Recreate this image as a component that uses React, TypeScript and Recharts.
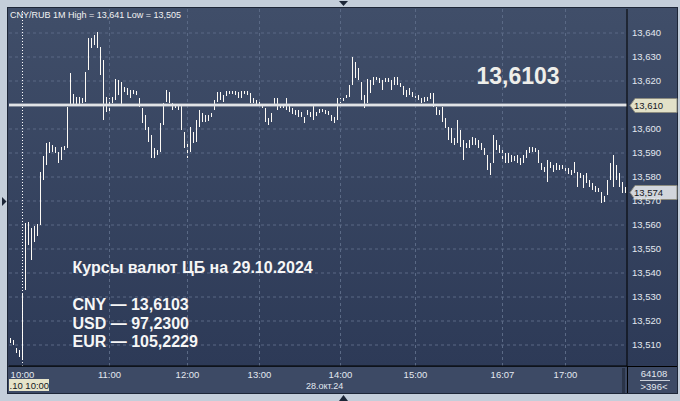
import React from 'react';
import { BarChart, Bar, XAxis, YAxis, CartesianGrid, ReferenceLine } from 'recharts';

// one-minute high/low bars (grouped), CNY/RUB, 28.10.2024
const highs = [
  13.5129, 13.5121, 13.5088, 13.5079, 13.5317, 13.5608, 13.5613, 13.5588, 13.5596, 13.5604,
  13.5821, 13.5888, 13.5942, 13.5946, 13.5933, 13.5925, 13.5904, 13.5925, 13.5929, 13.6092,
  13.6233, 13.6146, 13.6133, 13.6133, 13.6129, 13.6238, 13.6379, 13.6379, 13.6392, 13.6404,
  13.6342, 13.6288, 13.6133, 13.6129, 13.6133, 13.6208, 13.6204, 13.6196, 13.6175, 13.6171,
  13.6163, 13.6163, 13.6158, 13.6129, 13.6088, 13.6058, 13.6008, 13.5975, 13.5921, 13.5913,
  13.6025, 13.6108, 13.6163, 13.6154, 13.6108, 13.6104, 13.6096, 13.6100, 13.5988, 13.5946,
  13.6008, 13.5988, 13.6038, 13.6079, 13.6067, 13.6058, 13.6058, 13.6067, 13.6121, 13.6154,
  13.6154, 13.6142, 13.6158, 13.6158, 13.6158, 13.6158, 13.6154, 13.6158, 13.6158, 13.6158,
  13.6150, 13.6129, 13.6121, 13.6113, 13.6104, 13.6088, 13.6046, 13.6067, 13.6129, 13.6129,
  13.6104, 13.6100, 13.6129, 13.6100, 13.6088, 13.6079, 13.6079, 13.6071, 13.6050, 13.6079,
  13.6071, 13.6096, 13.6071, 13.6083, 13.6083, 13.6079, 13.6075, 13.6058, 13.6050, 13.6129,
  13.6129, 13.6129, 13.6142, 13.6183, 13.6300, 13.6279, 13.6254, 13.6196, 13.6142, 13.6208,
  13.6204, 13.6217, 13.6217, 13.6213, 13.6204, 13.6213, 13.6213, 13.6204, 13.6217, 13.6217,
  13.6192, 13.6179, 13.6163, 13.6171, 13.6154, 13.6150, 13.6142, 13.6129, 13.6133, 13.6133,
  13.6150, 13.6150, 13.6092, 13.6079, 13.6092, 13.6046, 13.6008, 13.6004, 13.5963, 13.6038,
  13.5996, 13.5954, 13.5942, 13.5954, 13.5967, 13.5963, 13.5954, 13.5942, 13.5921, 13.5892,
  13.5858, 13.5975, 13.5954, 13.5933, 13.5913, 13.5900, 13.5900, 13.5892, 13.5888, 13.5892,
  13.5879, 13.5892, 13.5913, 13.5925, 13.5925, 13.5921, 13.5913, 13.5858, 13.5842, 13.5871,
  13.5863, 13.5850, 13.5858, 13.5850, 13.5850, 13.5846, 13.5838, 13.5829, 13.5863, 13.5821,
  13.5817, 13.5808, 13.5817, 13.5788, 13.5775, 13.5763, 13.5754, 13.5738, 13.5721, 13.5788,
  13.5858, 13.5892, 13.5850, 13.5817, 13.5779, 13.5758,
];

const lows = [
  13.5108, 13.5100, 13.5067, 13.5050, 13.5038, 13.5329, 13.5517, 13.5454, 13.5529, 13.5554,
  13.5600, 13.5788, 13.5850, 13.5900, 13.5904, 13.5900, 13.5858, 13.5871, 13.5913, 13.5921,
  13.6096, 13.6104, 13.6100, 13.6104, 13.6108, 13.6113, 13.6246, 13.6338, 13.6350, 13.6338,
  13.6225, 13.6038, 13.6071, 13.6067, 13.6108, 13.6121, 13.6142, 13.6100, 13.6154, 13.6142,
  13.6129, 13.6146, 13.6142, 13.6092, 13.6025, 13.5996, 13.5946, 13.5879, 13.5879, 13.5892,
  13.5904, 13.6017, 13.6113, 13.6108, 13.6079, 13.6088, 13.6079, 13.5996, 13.5921, 13.5879,
  13.5904, 13.5942, 13.5946, 13.6008, 13.6029, 13.6029, 13.6033, 13.6050, 13.6079, 13.6113,
  13.6121, 13.6113, 13.6138, 13.6146, 13.6146, 13.6142, 13.6129, 13.6129, 13.6146, 13.6142,
  13.6108, 13.6108, 13.6104, 13.6100, 13.6088, 13.6029, 13.6017, 13.6029, 13.6100, 13.6079,
  13.6088, 13.6088, 13.6079, 13.6071, 13.6063, 13.6058, 13.6050, 13.6050, 13.6025, 13.6058,
  13.6050, 13.6038, 13.6054, 13.6067, 13.6071, 13.6063, 13.6058, 13.6033, 13.6025, 13.6038,
  13.6108, 13.6117, 13.6129, 13.6133, 13.6183, 13.6213, 13.6204, 13.6121, 13.6088, 13.6108,
  13.6150, 13.6183, 13.6204, 13.6192, 13.6163, 13.6196, 13.6196, 13.6163, 13.6183, 13.6183,
  13.6175, 13.6142, 13.6133, 13.6142, 13.6133, 13.6129, 13.6121, 13.6108, 13.6113, 13.6117,
  13.6125, 13.6092, 13.6058, 13.6058, 13.6029, 13.6004, 13.5954, 13.5942, 13.5933, 13.5942,
  13.5925, 13.5871, 13.5921, 13.5921, 13.5933, 13.5933, 13.5921, 13.5913, 13.5892, 13.5829,
  13.5808, 13.5858, 13.5913, 13.5900, 13.5871, 13.5858, 13.5858, 13.5863, 13.5867, 13.5858,
  13.5850, 13.5858, 13.5879, 13.5900, 13.5904, 13.5904, 13.5858, 13.5829, 13.5821, 13.5779,
  13.5838, 13.5821, 13.5829, 13.5829, 13.5833, 13.5821, 13.5813, 13.5808, 13.5817, 13.5758,
  13.5796, 13.5754, 13.5775, 13.5758, 13.5746, 13.5738, 13.5738, 13.5692, 13.5696, 13.5725,
  13.5788, 13.5758, 13.5788, 13.5758, 13.5733, 13.5733,
];

const xTickSlots = [4, 33, 59, 83, 110, 135, 164, 185];
const xTickLabels = ['10:00', '11:00', '12:00', '13:00', '14:00', '15:00', '16:07', '17:00'];
// 13,610 is shown by the price tag itself
const yTicks = [13.51, 13.52, 13.53, 13.54, 13.55, 13.56, 13.57, 13.58, 13.59, 13.6, 13.62, 13.63, 13.64];
const gridY = [13.51, 13.52, 13.53, 13.54, 13.55, 13.56, 13.57, 13.58, 13.59, 13.6, 13.61, 13.62, 13.63, 13.64];
const yDomain = [13.50125, 13.65];
const refPrice = 13.61;
const lastPrice = 13.574;

const headerText = 'CNY/RUB 1M High = 13,641 Low = 13,505';
const bigPriceText = '13,6103';
const ratesTitle = 'Курсы валют ЦБ на 29.10.2024';
const ratesLines = ['CNY — 13,6103', 'USD — 97,2300', 'EUR — 105,2229'];
const cursorTimeText = '.10 10:00';
const dateText = '28.окт.24';
const volumeText = '64108';
const barsCountText = '>396<';

const data = highs.map((h, i) => ({ i, hl: [lows[i], h] }));

const FONT = '"Liberation Sans", Arial, sans-serif';
const fmt3 = (v: number) => v.toFixed(3).replace('.', ',');

const HLBar = (props: any) => {
  const { x, y, width, height } = props;
  if (x == null || y == null) return null;
  const top = Math.round(height < 0 ? y + height : y);
  const bottom = Math.round(height < 0 ? y : y + height);
  return <rect x={Math.floor(x)} y={top} width={Math.max(1, Math.round(width))} height={Math.max(1, bottom - top)} fill="#fdfaf5" />;
};

const PriceTag = (props: any) => {
  const { viewBox, text, fill, dy } = props;
  if (!viewBox) return null;
  const x = viewBox.x + viewBox.width + 3;
  const y = Math.round(viewBox.y + (dy || 0)) + 0.5;
  return (
    <g>
      <polygon
        points={`${x},${y} ${x + 5},${y - 7} ${x + 47},${y - 7} ${x + 47},${y + 7} ${x + 5},${y + 7}`}
        fill={fill}
        stroke="#8c8c80"
        strokeWidth={1}
      />
      <text x={x + 4} y={y + 3.5} fontSize={9.5} fill="#15181e" fontFamily={FONT}>{text}</text>
    </g>
  );
};

export default function App() {
  return (
    <div style={{ position: 'absolute', left: 0, top: 0, width: 680, height: 401, overflow: 'hidden' }}>
      <svg width={680} height={401} style={{ position: 'absolute', left: 0, top: 0 }}>
        <defs>
          <linearGradient id="pg" x1="0" y1="0" x2="0" y2="1">
            <stop offset="0" stopColor="#404e69" />
            <stop offset="1" stopColor="#2d3a57" />
          </linearGradient>
        </defs>
        <rect x={0} y={0} width={680} height={401} fill="#c4ceda" />
        <rect x={7} y={7} width={671} height={387} fill="#1d2637" />
        <rect x={8} y={8} width={620} height={358} fill="url(#pg)" />
        <rect x={628} y={8} width={49} height={358} fill="url(#pg)" />
        <rect x={8} y={367} width={669} height={26} fill="#3d4a65" />
      </svg>
      <div style={{ position: 'absolute', left: 0, top: 0 }}>
        <BarChart width={680} height={401} data={data} margin={{ top: 9, left: 9, right: 0, bottom: 0 }} barSize={1}>
          <CartesianGrid vertical={false} horizontalValues={gridY} stroke="#5a6985" strokeDasharray="3 3" />
          {xTickSlots.slice(1).map((s) => (
            <ReferenceLine key={s} x={s} stroke="#5a6985" strokeDasharray="3 3" />
          ))}
          <ReferenceLine x={xTickSlots[0]} stroke="#ffffff" strokeDasharray="1 2" />
          <XAxis
            dataKey="i"
            type="category"
            ticks={xTickSlots}
            interval={0}
            height={35}
            tickSize={0}
            tickMargin={5}
            tickFormatter={(v: any) => xTickLabels[xTickSlots.indexOf(Number(v))] ?? ''}
            axisLine={{ stroke: '#000000' }}
            tickLine={false}
            tick={{ fill: '#e3e8f0', fontSize: 9.5, fontFamily: FONT }}
          />
          <YAxis
            orientation="right"
            width={53}
            domain={yDomain}
            allowDataOverflow
            ticks={yTicks}
            interval={0}
            tickSize={0}
            tickMargin={5}
            tickFormatter={fmt3}
            axisLine={{ stroke: '#000000' }}
            tickLine={false}
            tick={{ fill: '#e3e8f0', fontSize: 9.5, fontFamily: FONT, textAnchor: 'start' }}
          />
          <Bar dataKey="hl" isAnimationActive={false} shape={<HLBar />} />
          <ReferenceLine y={refPrice} stroke="#c3c7ce" strokeWidth={3} label={<PriceTag text={fmt3(refPrice)} fill="#e2e1c8" />} />
          <ReferenceLine y={refPrice} stroke="#ffffff" strokeWidth={1} />
          <ReferenceLine y={lastPrice} stroke="none" strokeOpacity={0} label={<PriceTag text={fmt3(lastPrice)} fill="#d2d6dc" dy={1} />} />
        </BarChart>
      </div>
      <svg width={680} height={401} style={{ position: 'absolute', left: 0, top: 0, pointerEvents: 'none' }} fontFamily={FONT}>
        <line x1={627} y1={366.5} x2={677} y2={366.5} stroke="#000" />
        <line x1={627.5} y1={366} x2={627.5} y2={393} stroke="#000" />
        <rect x={622} y={368} width={3} height={25} fill="#2a3448" />
        <text x={10} y={17.5} fontSize={9} fill="#f2f2f2">{headerText}</text>
        <text x={476.5} y={84} fontSize={23} fontWeight="bold" fill="#eeeeea">{bigPriceText}</text>
        <text x={72.5} y={273} fontSize={16} fontWeight="bold" fill="#f6f6f6">{ratesTitle}</text>
        {ratesLines.map((t, k) => (
          <text key={t} x={72.5} y={310.3 + k * 18.5} fontSize={16} fontWeight="bold" fill="#f6f6f6">{t}</text>
        ))}
        <rect x={9} y={379} width={40} height={12} fill="#e6e4ca" />
        <text x={9.5} y={389} fontSize={9.5} fill="#15181e">{cursorTimeText}</text>
        <text x={306} y={389} fontSize={9} fill="#e3e8f0">{dateText}</text>
        <text x={654} y={377} fontSize={9.5} fill="#e3e8f0" textAnchor="middle">{volumeText}</text>
        <line x1={640} y1={380.5} x2={670} y2={380.5} stroke="#c8ced8" />
        <text x={654} y={389.5} fontSize={9.5} fill="#e3e8f0" textAnchor="middle">{barsCountText}</text>
        <polygon points="339,1 348,1 343.5,6" fill="#1c2637" />
        <polygon points="339,401 348,401 343.5,395" fill="#1c2637" />
        <polygon points="2,197 2,206 6.5,201.5" fill="#1c2637" />
      </svg>
    </div>
  );
}
